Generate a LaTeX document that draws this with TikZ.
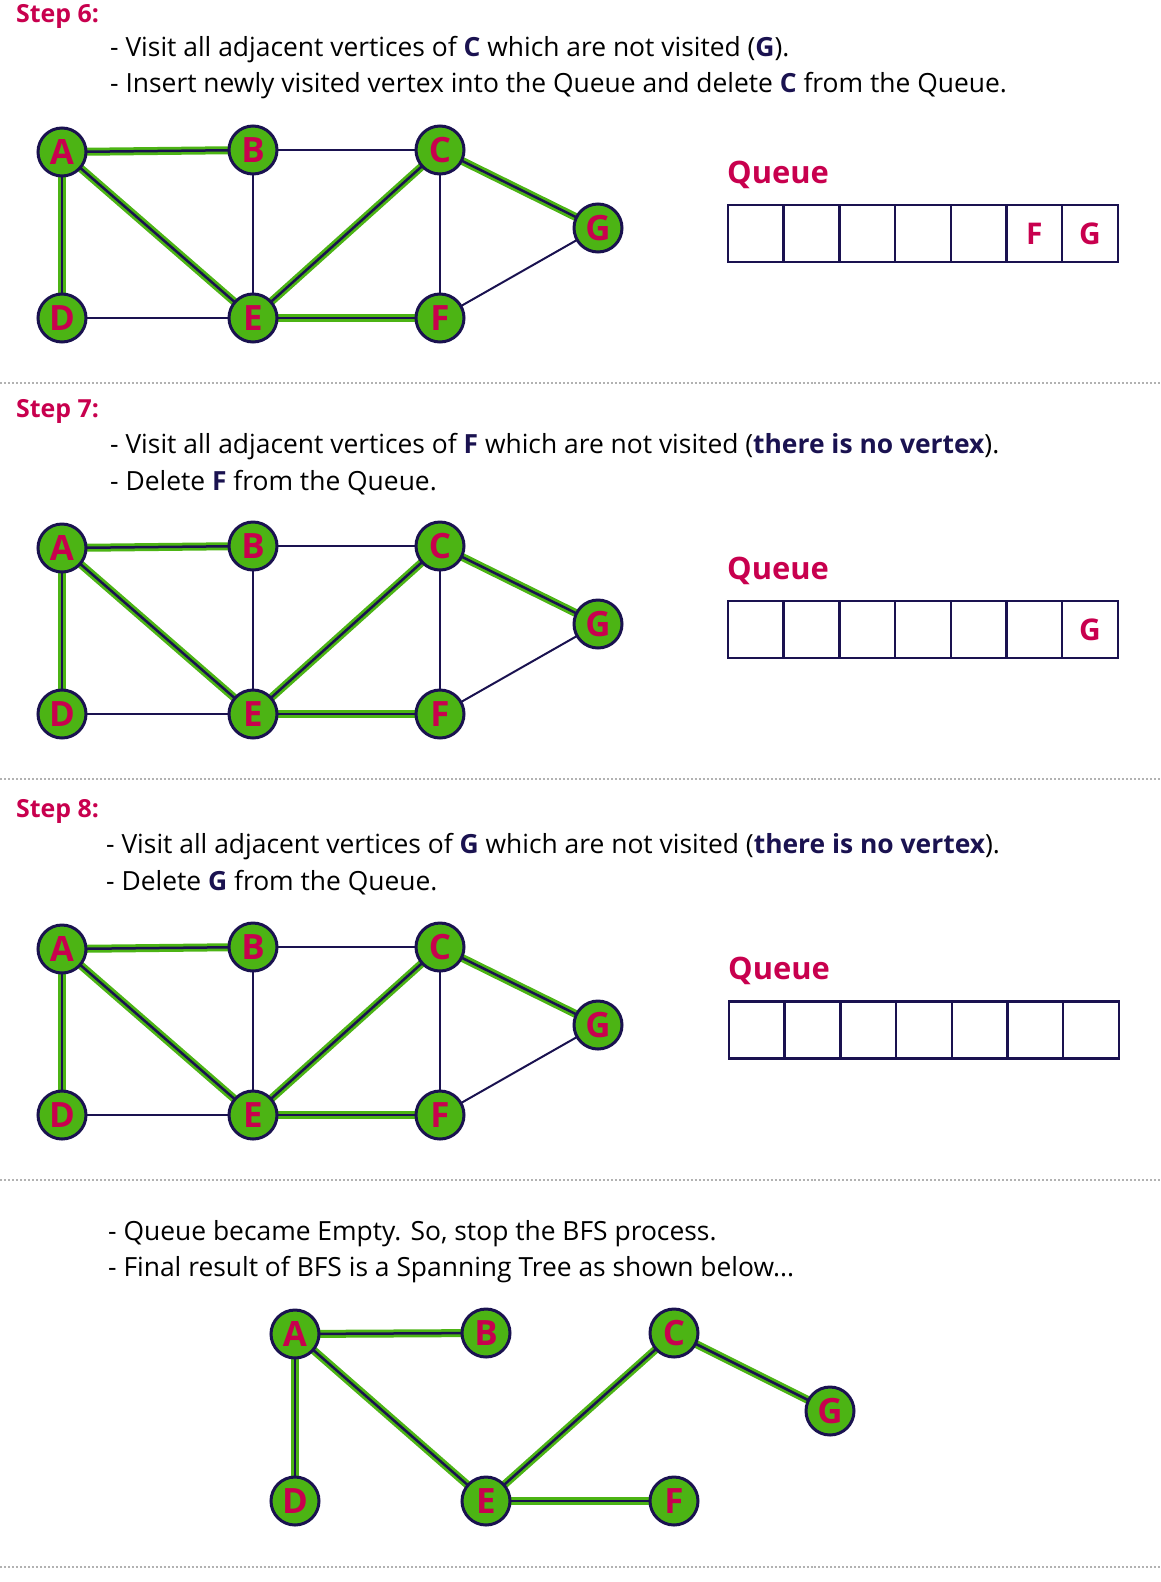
\documentclass[tikz,border=0pt]{standalone}
\usepackage{fontspec}
\setmainfont{Open Sans}
\definecolor{crim}{HTML}{C8004E}
\definecolor{navy}{HTML}{1A1250}
\definecolor{grn}{HTML}{4CB414}
\tikzset{
 vtx/.style={circle,fill=grn,draw=navy,line width=3bp,minimum size=48bp,inner sep=0pt,text=crim,font=\fontsize{35}{35}\selectfont\bfseries},
 plain/.style={draw=navy,line width=2bp},
 hl/.style={draw=grn,line width=8bp,postaction={draw=navy,line width=2.5bp}},
 txt/.style={anchor=west,inner sep=0pt,font=\fontsize{26.5}{30}\selectfont,text=black},
 steplab/.style={anchor=west,inner sep=0pt,font=\fontsize{25}{30}\selectfont\bfseries,text=crim},
 qlab/.style={anchor=west,inner sep=0pt,font=\fontsize{31}{32}\selectfont\bfseries,text=crim},
 qbox/.style={draw=navy,line width=2.5bp,minimum width=55.7bp,minimum height=57bp,inner sep=0pt,text=crim,font=\fontsize{30}{30}\selectfont\bfseries},
 sep/.style={draw=gray!60,line width=2bp,dotted}
}
\newcommand{\nv}{\textcolor{navy}}
\begin{document}
\begin{tikzpicture}[x=1bp,y=-1bp]
\useasboundingbox (0,0) rectangle (1160,1582);
\foreach \p/\dy in {a/0,b/396,c/797}{
 \begin{scope}[yshift=-\dy bp]
 \coordinate (\p A) at (62,152);
 \coordinate (\p B) at (253,150);
 \coordinate (\p C) at (440,150);
 \coordinate (\p G) at (598,228);
 \coordinate (\p D) at (62,318);
 \coordinate (\p E) at (253,318);
 \coordinate (\p F) at (440,318);
 \end{scope}
}
\foreach \p in {a,b,c}{
 \draw[plain] (\p B)--(\p E);
 \draw[plain] (\p B)--(\p C);
 \draw[plain] (\p D)--(\p E);
 \draw[plain] (\p C)--(\p F);
 \draw[plain] (\p F)--(\p G);
 \draw[hl] (\p A)--(\p B);
 \draw[hl] (\p A)--(\p D);
 \draw[hl] (\p A)--(\p E);
 \draw[hl] (\p C)--(\p E);
 \draw[hl] (\p E)--(\p F);
 \draw[hl] (\p C)--(\p G);
 \foreach \v in {A,B,C,D,E,F,G}{ \node[vtx] (\p\v n) at (\p\v) {\v}; }
}
% final tree
\coordinate (tA) at (295,1334);
\coordinate (tB) at (486,1333);
\coordinate (tC) at (674,1333);
\coordinate (tG) at (830,1411);
\coordinate (tD) at (295,1501);
\coordinate (tE) at (486,1501);
\coordinate (tF) at (674,1501);
\draw[hl] (tA)--(tB);
\draw[hl] (tA)--(tD);
\draw[hl] (tA)--(tE);
\draw[hl] (tC)--(tE);
\draw[hl] (tE)--(tF);
\draw[hl] (tC)--(tG);
\foreach \v in {A,B,C,D,E,F,G}{ \node[vtx] (t\v n) at (t\v) {\v}; }
% texts
\node[steplab] (s6) at (16,16) {Step 6:};
\node[txt] (t61) at (110,50) {- Visit all adjacent vertices of \nv{\textbf{C}} which are not visited (\nv{\textbf{G}}).};
\node[txt] (t62) at (110,86) {- Insert newly visited vertex into the Queue and delete \nv{\textbf{C}} from the Queue.};
\node[steplab] (s7) at (16,411) {Step 7:};
\node[txt] (t71) at (110,447) {- Visit all adjacent vertices of \nv{\textbf{F}} which are not visited (\nv{\textbf{there is no vertex}}).};
\node[txt] (t72) at (110,483) {- Delete \nv{\textbf{F}} from the Queue.};
\node[steplab] (s8) at (16,811) {Step 8:};
\node[txt] (t81) at (106,847) {- Visit all adjacent vertices of \nv{\textbf{G}} which are not visited (\nv{\textbf{there is no vertex}}).};
\node[txt] (t82) at (106,883) {- Delete \nv{\textbf{G}} from the Queue.};
\node[txt] (t91) at (108,1234) {- Queue became Empty. So, stop the BFS process.};
\node[txt] (t92) at (108,1270) {- Final result of BFS is a Spanning Tree as shown below...};
% queues
\node[qlab] (q1) at (727,175) {Queue};
\node[qlab] (q2) at (727,571) {Queue};
\node[qlab] (q3) at (728,971) {Queue};
\foreach \i in {0,...,6}{
 \pgfmathsetmacro\xx{728+27.85+55.7*\i}
 \node[qbox] (qa\i) at (\xx,233.5) {\ifnum\i=5 F\fi\ifnum\i=6 G\fi};
 \node[qbox] (qb\i) at (\xx,629.5) {\ifnum\i=6 G\fi};
 \node[qbox] (qc\i) at (\xx+1,1030) {};
}
% separators
\coordinate (l1) at (0,383); \coordinate (r1) at (1160,383);
\coordinate (l2) at (0,779); \coordinate (r2) at (1160,779);
\coordinate (l3) at (0,1180); \coordinate (r3) at (1160,1180);
\coordinate (l4) at (0,1567); \coordinate (r4) at (1160,1567);
\draw[sep] (l1)--(r1); \draw[sep] (l2)--(r2); \draw[sep] (l3)--(r3); \draw[sep] (l4)--(r4);
\end{tikzpicture}
\end{document}
